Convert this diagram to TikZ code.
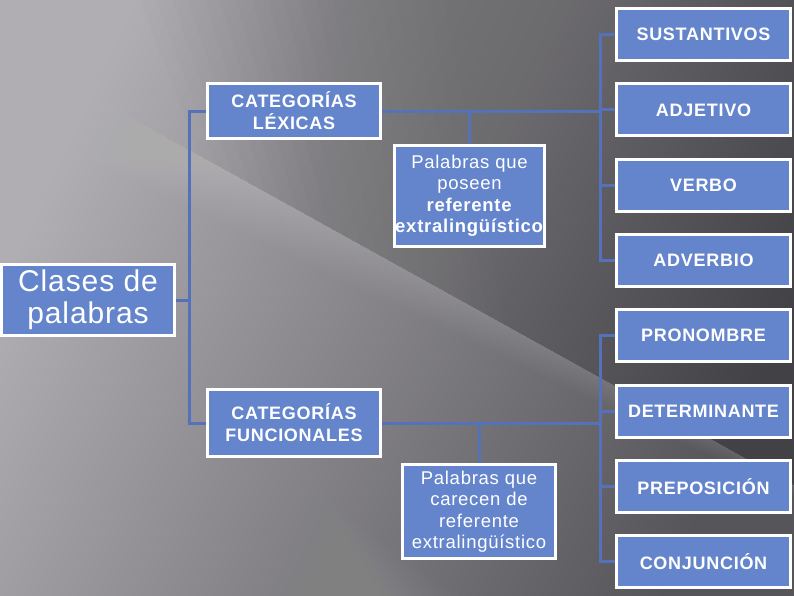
\documentclass[tikz,border=0pt]{standalone}
\usepackage{fontspec}
\setmainfont{Liberation Sans}
\usetikzlibrary{positioning}

\definecolor{boxblue}{RGB}{100,133,204}
\definecolor{linkblue}{RGB}{84,114,186}
\definecolor{bglight}{RGB}{176,174,179}
\definecolor{bgdark}{RGB}{86,85,90}

\begin{document}
\begin{tikzpicture}[x=1pt, y=-1pt,
	box/.style={rectangle, draw=white, line width=3pt, fill=boxblue, text=white, inner sep=0pt, align=center},
	cat/.style={box, minimum width=173pt, font=\bfseries\fontsize{18}{22}\selectfont\addfontfeatures{LetterSpace=4}},
	word/.style={box, minimum width=174pt, minimum height=52pt, font=\bfseries\fontsize{18}{22}\selectfont\addfontfeatures{LetterSpace=4}},
	note/.style={box, font=\fontsize{18.5}{21.5}\selectfont\addfontfeatures{LetterSpace=4}},
	link/.style={draw=linkblue, line width=3pt}
	]

	% background
	\shade [top color=bglight, bottom color=bgdark, shading angle=65] (0,0) rectangle (794,595);
	\begin{scope}
		\clip (0,0) rectangle (794,595);
		\foreach \k in {0,...,19} {
			\fill [black, opacity=0.008] ({140+16*\k},0) -- (794,0) -- (794,485) -- ({200+16*\k},{45+0.554*(200+16*\k)}) -- cycle;
		}
		\foreach \w in {5,10,...,70} {
			\fill [white, opacity=0.012] (0,45) -- (794,485) -- (794,{485+\w/6}) -- (0,{45+\w}) -- cycle;
			\fill [white, opacity=0.009] (0,{335-\w}) -- (505,{700-\w}) -- (505,{700+\w}) -- (0,{335+\w}) -- cycle;
			\fill [white, opacity=0.006] (0,{440-\w}) -- (369,{700-\w}) -- (369,{700+\w}) -- (0,{440+\w}) -- cycle;
		}
	\end{scope}
	\useasboundingbox (0,0) rectangle (794,595);

	\node (clases) [box, minimum width=173pt, minimum height=71pt, font=\fontsize{30}{32}\selectfont\addfontfeatures{LetterSpace=3}] at (88,300) {Clases de\\palabras};

	\node (lex) [cat, minimum height=55pt] at (294,111) {CATEGORÍAS\\LÉXICAS};
	\node (fun) [cat, minimum height=67pt] at (294,423) {CATEGORÍAS\\FUNCIONALES};

	\node (poseen) [note, minimum width=150pt, minimum height=101pt] at (469.5,196) {Palabras que\\poseen\\\textbf{referente}\\\textbf{extralingüístico}};
	\node (carecen) [note, minimum width=153pt, minimum height=94pt] at (479,511.5) {Palabras que\\carecen de\\referente\\extralingüístico};

		\node (sust) [word] at (703.5,34.5) {SUSTANTIVOS};
		\node (adj) [word, below=20.3pt of sust] {ADJETIVO};
		\node (verbo) [word, below=20.3pt of adj] {VERBO};
		\node (adv) [word, below=20.3pt of verbo] {ADVERBIO};
		\node (pron) [word, below=20.3pt of adv] {PRONOMBRE};
		\node (det) [word, below=20.3pt of pron] {DETERMINANTE};
		\node (prep) [word, below=20.3pt of det] {PREPOSICIÓN};
		\node (conj) [word, below=20.3pt of prep] {CONJUNCIÓN};

	\coordinate (lexbus) at (600,111);
	\coordinate (funbus) at (600,423);

	\draw [link] (clases.east)--++(13,0);
	\draw [link] (lex.west)--++(-17,0) |- (fun.west);

	\draw [link] (lex.east)--(lexbus);
	\draw [link] (poseen.north)--(poseen.north |- lexbus);
	\draw [link] (sust.west)--++(-15,0) |- (adv.west);
	\draw [link] (adj.west)--++(-15,0);
	\draw [link] (verbo.west)--++(-15,0);

	\draw [link] (fun.east)--(funbus);
	\draw [link] (carecen.north)--(carecen.north |- funbus);
	\draw [link] (pron.west)--++(-15,0) |- (conj.west);
	\draw [link] (det.west)--++(-15,0);
	\draw [link] (prep.west)--++(-15,0);

\end{tikzpicture}
\end{document}
